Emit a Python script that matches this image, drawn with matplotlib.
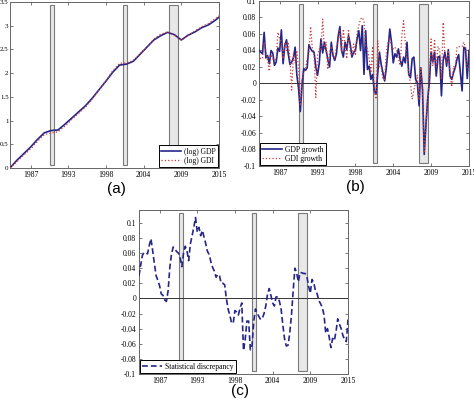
import matplotlib
matplotlib.use("Agg")
import matplotlib.pyplot as plt
import numpy as np

# quarterly index 1..123 (1984Q3 .. 2015Q1)
tick_labels = ['1987', '1993', '1998', '2004', '2009', '2015']
recessions = [(24.5, 26.5), (67, 69.5), (94, 99)]

# (a) log levels, read every 4 quarters
level_q = [1, 5, 9, 13, 17, 21, 25, 29, 33, 37, 41, 45, 49, 53, 57, 61,
           65, 69, 73, 77, 81, 85, 89, 93, 97, 101, 105, 109, 113, 117, 121, 123]
log_gdp = [0.00, 0.16, 0.30, 0.44, 0.60, 0.74, 0.79, 0.80, 0.92, 1.05, 1.18,
           1.31, 1.47, 1.65, 1.83, 2.02, 2.17, 2.19, 2.25, 2.40, 2.55, 2.70,
           2.79, 2.86, 2.81, 2.70, 2.80, 2.87, 2.96, 3.02, 3.12, 3.18]
log_gdi = [0.00, 0.13, 0.27, 0.40, 0.56, 0.70, 0.74, 0.76, 0.88, 1.02, 1.15,
           1.28, 1.45, 1.64, 1.84, 2.05, 2.21, 2.21, 2.27, 2.41, 2.55, 2.72,
           2.82, 2.87, 2.80, 2.69, 2.80, 2.89, 2.98, 3.05, 3.15, 3.21]

# (b) growth rates
gdp_growth = [
    0.040, 0.038, 0.036, 0.062, 0.031, 0.034, 0.024, 0.040, 0.037, 0.022,
    0.026, 0.043, 0.039, 0.065, 0.024, 0.046, 0.053, 0.036, 0.023, 0.026,
    0.031, 0.044, 0.010, -0.006, -0.034, -0.002, 0.018, 0.016, 0.019, 0.047,
    0.042, 0.039, 0.038, 0.020, 0.010, 0.024, 0.054, 0.037, 0.050, 0.040,
    0.029, 0.020, 0.050, 0.034, 0.028, 0.036, 0.057, 0.069, 0.040, 0.032,
    0.050, 0.041, 0.058, 0.048, 0.032, 0.038, 0.040, 0.054, 0.064, 0.040,
    0.070, 0.011, 0.064, 0.017, 0.021, 0.005, 0.011, -0.009, -0.013, 0.013,
    0.038, 0.023, 0.013, 0.003, 0.019, 0.042, 0.066, 0.050, 0.025, 0.036,
    0.032, 0.042, 0.029, 0.021, 0.032, 0.025, 0.050, 0.011, 0.007, 0.030,
    0.032, 0.005, 0.001, -0.027, 0.019, -0.007, -0.086, -0.050, -0.019, 0.001,
    0.038, 0.026, 0.038, 0.009, 0.032, 0.033, -0.015, 0.028, 0.038, 0.021,
    0.041, 0.009, 0.005, 0.013, 0.019, 0.029, 0.035, 0.013, -0.009, 0.044,
    0.042, 0.006, 0.040]
gdi_growth = [
    0.035, 0.030, 0.030, 0.050, 0.040, 0.028, 0.015, 0.035, 0.030, 0.028,
    0.030, 0.062, 0.055, 0.050, 0.030, 0.050, 0.040, 0.050, 0.030, -0.008,
    0.036, 0.025, 0.040, 0.018, -0.027, 0.005, 0.012, 0.018, 0.030, 0.035,
    0.069, 0.042, 0.038, -0.017, 0.034, 0.042, 0.040, 0.078, 0.042, 0.050,
    0.017, 0.038, 0.045, 0.035, 0.030, 0.045, 0.052, 0.064, 0.038, 0.066,
    0.045, 0.030, 0.066, 0.038, 0.034, 0.048, 0.034, 0.062, 0.070, 0.078,
    0.080, 0.075, 0.046, 0.042, 0.030, 0.013, 0.045, -0.010, -0.019, 0.052,
    0.020, 0.020, 0.005, 0.005, 0.038, 0.050, 0.055, 0.045, 0.042, 0.044,
    0.040, 0.030, 0.022, 0.058, 0.076, 0.050, 0.030, 0.013, 0.000, -0.019,
    -0.008, 0.001, 0.010, -0.020, 0.020, -0.010, -0.084, -0.050, -0.020, 0.010,
    0.054, 0.021, 0.054, 0.020, 0.045, 0.040, 0.005, 0.074, 0.035, 0.025,
    0.040, 0.010, -0.004, 0.021, 0.018, 0.044, 0.045, 0.044, 0.045, 0.050,
    0.044, 0.020, 0.015]

# (c) statistical discrepancy
discrepancy = [
    0.030, 0.044, 0.057, 0.061, 0.060, 0.059, 0.070, 0.079, 0.063, 0.046,
    0.030, 0.024, 0.017, 0.006, 0.004, -0.002, -0.004, 0.010, 0.041, 0.059,
    0.068, 0.065, 0.062, 0.060, 0.055, 0.042, 0.060, 0.069, 0.063, 0.050,
    0.072, 0.083, 0.094, 0.107, 0.088, 0.094, 0.083, 0.090, 0.081, 0.072,
    0.062, 0.058, 0.048, 0.041, 0.036, 0.028, 0.032, 0.030, 0.020, 0.020,
    0.018, 0.000, -0.014, -0.022, -0.032, -0.033, -0.016, -0.018, -0.022, -0.013,
    -0.006, -0.069, -0.054, -0.030, -0.030, -0.068, -0.062, -0.030, -0.014, -0.020,
    -0.024, -0.028, -0.026, -0.020, -0.010, 0.005, 0.013, 0.004, -0.006, -0.010,
    0.002, 0.002, -0.004, -0.015, -0.036, -0.054, -0.063, -0.062, -0.046, -0.022,
    0.010, 0.040, 0.034, 0.022, 0.034, 0.034, 0.033, 0.033, 0.029, 0.016,
    0.007, 0.025, 0.021, 0.010, 0.006, -0.003, -0.007, -0.012, -0.022, -0.046,
    -0.040, -0.051, -0.065, -0.053, -0.056, -0.044, -0.027, -0.034, -0.040, -0.049,
    -0.054, -0.057, -0.028]

q = np.arange(1, len(gdp_growth) + 1)
navy = '#25258a'
red = '#c83c3c'
serif = 'Liberation Serif'

fig = plt.figure(figsize=(4.74, 3.99), dpi=100)
ax_a = fig.add_axes([0.021, 0.579, 0.441, 0.416])
ax_b = fig.add_axes([0.5464, 0.584, 0.443, 0.4135])
ax_c = fig.add_axes([0.2932, 0.0627, 0.441, 0.411])


def style(ax):
    ax.set_xlim(1, q[-1])
    ax.set_xticks(np.linspace(13, q[-1], len(tick_labels)))
    ax.set_xticklabels(tick_labels)
    ax.tick_params(direction='in', length=2, width=0.5, top=True, right=True,
                   labelsize=5.5, pad=2, colors='#444', labelcolor='black')
    for lab in ax.get_xticklabels() + ax.get_yticklabels():
        lab.set_family(serif)
    for s in ax.spines.values():
        s.set_color('#666')
        s.set_linewidth(0.7)
    for s0, s1 in recessions:
        ax.axvspan(s0, s1, ymin=0.02, ymax=0.98, facecolor='#e8e8e8',
                   edgecolor='#7a7a7a', lw=0.8, zorder=1)


def legend(ax, loc):
    leg = ax.legend(loc=loc, prop={'family': serif, 'size': 5.5}, fancybox=False,
                    edgecolor='black', borderpad=0.3, labelspacing=0.1,
                    handlelength=2.6, handletextpad=0.4, borderaxespad=0.15,
                    framealpha=1)
    leg.get_frame().set_linewidth(0.7)


# (a)
ax_a.plot(level_q, log_gdp, color=navy, lw=1.2, label='(log) GDP', zorder=3)
ax_a.plot(level_q, log_gdi, color=red, lw=0.9, ls=':', label='(log) GDI', zorder=3)
ax_a.set_ylim(0, 3.5)
ax_a.set_yticks(np.arange(0, 3.51, 0.5))
ax_a.yaxis.set_major_formatter(matplotlib.ticker.FormatStrFormatter('%g'))
style(ax_a)
ax_a.tick_params(axis='y', pad=1, labelsize=5)
legend(ax_a, 'lower right')

# (b)
ax_b.axhline(0, color='#333', lw=0.7, zorder=2)
ax_b.plot(q, gdp_growth, color=navy, lw=1.2, label='GDP growth', zorder=3)
ax_b.plot(q, gdi_growth, color=red, lw=0.9, ls=':', label='GDI growth', zorder=4)
ax_b.set_ylim(-0.1, 0.1)
ax_b.set_yticks(np.linspace(-0.1, 0.1, 11))
ax_b.yaxis.set_major_formatter(matplotlib.ticker.FuncFormatter(lambda v, p: '%g' % round(v, 2)))
style(ax_b)
legend(ax_b, 'lower left')

# (c)
ax_c.axhline(0, color='#333', lw=0.7, zorder=2)
ax_c.plot(q, discrepancy, color=navy, lw=1.2, ls='--', dashes=(3.5, 1.8),
          label='Statistical discrepancy', zorder=3)
ax_c.set_ylim(-0.1, 0.117)
ax_c.set_yticks(np.linspace(-0.1, 0.1, 11))
ax_c.yaxis.set_major_formatter(matplotlib.ticker.FuncFormatter(lambda v, p: '%g' % round(v, 2)))
style(ax_c)
legend(ax_c, 'lower left')

fig.text(116 / 474, 1 - 189 / 399, '(a)', ha='center', va='center', fontsize=11,
         family='Liberation Sans')
fig.text(355 / 474, 1 - 187 / 399, '(b)', ha='center', va='center', fontsize=11,
         family='Liberation Sans')
fig.text(240 / 474, 1 - 391 / 399, '(c)', ha='center', va='center', fontsize=11,
         family='Liberation Sans')

fig.savefig('out.png', dpi=100)
